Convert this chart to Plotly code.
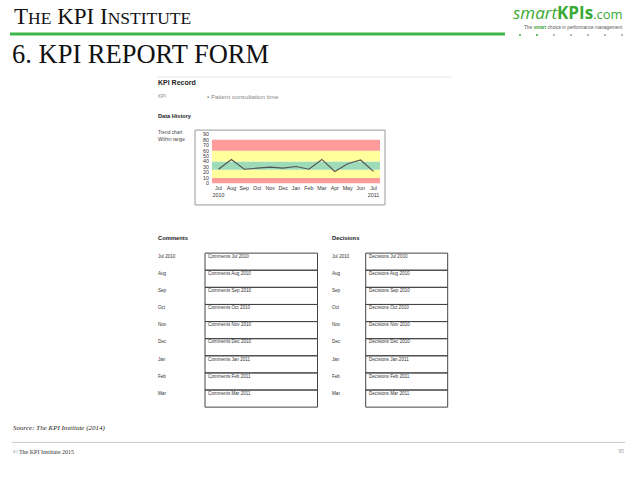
import plotly.graph_objects as go

W, H = 638, 478

# ---------------- data ----------------
trend_months = ["Jul<br>2010", "Aug", "Sep", "Oct", "Nov", "Dec", "Jan",
                "Feb", "Mar", "Apr", "May", "Jun", "Jul<br>2011"]
trend_values = [26, 44, 26, 28, 30, 28, 31, 26, 44, 22, 36, 43, 22]
band_edges = [0, 10, 25, 40, 60, 80]
band_colors = ["#ff9b9b", "#ffff9c", "#9edcb9", "#ffff9c", "#ff9b9b"]
y_ticks = [0, 10, 20, 30, 40, 50, 60, 70, 80, 90]

row_labels = ["Jul 2010", "Aug", "Sep", "Oct", "Nov", "Dec", "Jan", "Feb", "Mar"]
comment_texts = ["Comments Jul 2010", "Comments Aug 2010", "Comments Sep 2010",
                 "Comments Oct 2010", "Comments Nov 2010", "Comments Dec 2010",
                 "Comments Jan 2011", "Comments Feb 2011", "Comments Mar 2011"]
decision_texts = ["Decisions Jul 2010", "Decisions Aug 2010", "Decisions Sep 2010",
                  "Decisions Oct 2010", "Decisions Nov 2010", "Decisions Dec 2010",
                  "Decisions Jan 2011", "Decisions Feb 2011", "Decisions Mar 2011"]

# ---------------- helpers ----------------
def px(x):
    return x / W

def py(y):
    return 1 - y / H

SERIF = "Liberation Serif, Times New Roman, serif"
SANS = "Liberation Sans, Arial, sans-serif"

annotations = []
shapes = []

def txt(x, y, text, size, color="#000", family=SANS, xanchor="left", yanchor="middle"):
    annotations.append(dict(x=px(x), y=py(y), xref="paper", yref="paper",
                            text=text, showarrow=False, xanchor=xanchor, yanchor=yanchor,
                            borderpad=0,
                            font=dict(size=size, color=color, family=family)))

def line(x0, y0, x1, y1, color, width):
    shapes.append(dict(type="line", xref="paper", yref="paper",
                       x0=px(x0), y0=py(y0), x1=px(x1), y1=py(y1),
                       line=dict(color=color, width=width)))

def rect(x0, y0, x1, y1, color, width, fill="rgba(0,0,0,0)"):
    shapes.append(dict(type="rect", xref="paper", yref="paper",
                       x0=px(x0), y0=py(y0), x1=px(x1), y1=py(y1),
                       line=dict(color=color, width=width), fillcolor=fill, layer="below"))

# ---------------- figure ----------------
fig = go.Figure()

fig.add_trace(go.Scatter(x=trend_months, y=trend_values, mode="lines",
                         line=dict(color="#555555", width=1.2),
                         hoverinfo="x+y", showlegend=False))

# bands
for i, c in enumerate(band_colors):
    shapes.append(dict(type="rect", xref="x domain", yref="y",
                       x0=0, x1=1, y0=band_edges[i], y1=band_edges[i + 1],
                       fillcolor=c, line=dict(width=0), layer="below"))

# header
sc = lambda s: "<span style='font-size:17.5px'>%s</span>" % s
txt(13, 14, "T" + sc("HE") + " KPI I" + sc("NSTITUTE"), 23, "#111", SERIF)
line(10, 31.5, 505, 31.5, "#3db54a", 3)

# logo
txt(624, 10, "<i>smart</i><b>KPIs</b><span style='font-size:13px'>.com</span>", 17, "#3aaa35",
    "Open Sans, Liberation Sans, sans-serif", xanchor="right")
txt(624, 24.5, "The <b><span style='color:#3aaa35'>smart</span></b> choice in performance management",
    4.7, "#555", SANS, xanchor="right")
for i in range(7):
    xx = 520 + i * 17
    col = "#3aaa35" if i < 2 else "#9aa0a0"
    shapes.append(dict(type="circle", xref="paper", yref="paper",
                       x0=px(xx - 1), x1=px(xx + 1), y0=py(31.3), y1=py(33.3),
                       fillcolor=col, line=dict(width=0)))

txt(11, 52, "6. KPI REPORT FORM", 26.5, "#111", SERIF)

# form header
line(157, 75, 452, 75, "#e6e6e6", 1)
txt(157, 81, "<b>KPI Record</b>", 7, "#222")
txt(157, 94.5, "KPI", 5, "#888")
txt(206, 94.5, "\u25aa Patient consultation time", 6.2, "#888")
txt(157, 114.5, "<b>Data History</b>", 5.6, "#222")
txt(157, 131, "Trend chart", 4.8, "#444")
txt(157, 138, "Within range", 4.8, "#444")

# chart frame
rect(195, 128.7, 385, 204.5, "#9a9a9a", 1)

# comments / decisions
txt(157, 238, "<b>Comments</b>", 5.8, "#222")
txt(331, 238, "<b>Decisions</b>", 5.8, "#222")
top0, rh = 253.3, 17.33
for i, lab in enumerate(row_labels):
    t = top0 + i * rh
    txt(157, t + 3.3, lab, 4.6, "#333")
    txt(331, t + 3.3, lab, 4.6, "#333")
    rect(205, t, 317.5, t + rh, "#444", 1)
    rect(365.7, t, 447.7, t + rh, "#444", 1)
    txt(207, t + 3.3, comment_texts[i], 4.6, "#333")
    txt(367.5, t + 3.3, decision_texts[i], 4.6, "#333")

# footer
txt(12, 430, "<i>Source: The KPI Institute (2014)</i>", 7, "#222", SERIF)
line(12, 445, 625, 445, "#c8c8c8", 1)
txt(12, 454.5, "\u00a9 The KPI Institute 2015", 6, "#333", SERIF)
txt(624.5, 454, "35", 6, "#888", SERIF, xanchor="right")

fig.update_layout(
    width=W, height=H,
    margin=dict(l=0, r=0, t=0, b=0),
    paper_bgcolor="white", plot_bgcolor="white",
    showlegend=False,
    annotations=annotations,
    shapes=shapes,
    xaxis=dict(domain=[px(212), px(380)], type="category",
               categoryorder="array", categoryarray=trend_months,
               range=[-0.5, 12.5], tickmode="array", tickvals=trend_months,
               ticktext=trend_months, tickangle=0, showgrid=False, zeroline=False,
               showline=False, ticks="", fixedrange=True,
               tickfont=dict(size=5.3, color="#333", family=SANS)),
    yaxis=dict(domain=[py(182.7), py(133)], range=[0, 90], tickmode="array",
               tickvals=y_ticks, showgrid=False, zeroline=False, showline=False,
               ticks="", fixedrange=True, ticklabelstandoff=2,
               tickfont=dict(size=5.3, color="#333", family=SANS)),
)

fig.write_html("out.html", config={"displayModeBar": False},
               post_script="document.body.style.margin='0';document.body.style.overflow='hidden';")
